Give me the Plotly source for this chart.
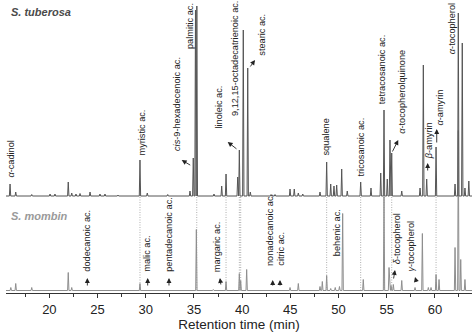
import plotly.graph_objects as go

# ---------------- data (retention time in min, signal in arbitrary units) ----------------
tub_times = [15.92, 16.51, 18.17, 20.07, 20.58, 21.96, 22.32, 22.76, 23.18, 24.22, 25.25, 25.77,
             27.12, 29.40, 30.16, 32.28, 34.59, 34.93, 35.16, 35.30, 37.08, 37.88, 38.33, 39.54,
             39.71, 40.12, 40.58, 40.85, 43.00, 43.41, 44.97, 45.41, 45.83, 46.29, 48.08, 48.77,
             49.19, 49.53, 49.81, 50.33, 50.91, 52.30, 53.37, 54.38, 54.72, 55.06, 55.34, 55.52,
             56.56, 58.46, 58.80, 59.15, 60.12, 62.09, 62.43, 62.84, 63.12, 63.52]
tub_heights = [12, 4, 1.5, 2, 2, 14, 3, 2, 2.5, 4, 2, 2,
               1, 36, 3, 1.5, 5, 38, 186, 190, 2, 10, 22, 19,
               46, 166, 128, 4, 1.5, 1.5, 7, 7, 3, 2, 4, 34,
               12, 10, 11, 27, 5, 14, 8, 23, 86, 17, 56, 43,
               5, 8, 131, 17, 49, 12, 183, 153, 8, 15]

mom_times = [16.00, 16.51, 18.17, 21.96, 22.32, 29.40, 35.25, 37.01, 38.33, 39.71, 39.85, 40.47,
             44.97, 45.83, 48.08, 48.32, 48.77, 49.19, 49.66, 50.10, 50.43, 52.57, 54.72, 55.24,
             55.45, 55.69, 56.56, 57.94, 58.70, 59.32, 59.60, 60.12, 60.43, 62.09, 62.43, 62.68,
             63.12]
mom_heights = [3, 7, 3, 18, 3, 7, 61, 1, 9, 17, 10, 21,
               3, 7, 4, 9, 15, 2, 3, 4, 77, 11, 94, 23,
               5, 6, 10, 3, 57, 3, 3, 16, 11, 43, 160, 31,
               11]

# peaks shared by both samples (dotted guide lines)
shared_times = [29.40, 35.29, 38.33, 39.71, 39.85, 48.77, 52.30, 54.72, 55.52, 60.12]

# labels: (text, time, bottom of label)
tub_labels = ["<i>α</i>-cadinol", "myristic ac.", "<i>cis</i>-9-hexadecenoic ac.", "palmitic ac.",
              "linoleic ac.", "9,12,15-octadecatrienoic ac.", "stearic ac.", "squalene",
              "tricosanoic ac.", "tetracosanoic ac.", "<i>α</i>-tocopherolquinone",
              "<i>β</i>-amyrin", "<i>α</i>-amyrin", "<i>α</i>-tocopherol"]
tub_label_t = [15.92, 29.56, 33.24, 34.59, 37.50, 39.21, 42.03, 48.60, 52.23, 54.48, 56.56,
               59.36, 60.48, 61.74]
tub_label_y = [114, 136, 141, 243, 163, 176, 236, 136, 115, 188, 158, 133, 166, 238]

mom_labels = ["dodecanoic ac.", "malic ac.", "pentadecanoic ac.", "margaric ac.",
              "nonadecanoic ac.", "citric ac.", "behenic ac.", "<i>δ</i>-tocopherol",
              "<i>γ</i>-tocopherol"]
mom_label_t = [23.87, 30.10, 32.34, 37.36, 42.89, 44.00, 49.81, 56.04, 57.42]
mom_label_y = [20, 20, 20, 20, 26, 26, 36, 28, 20]

# arrows: head (t, y) and tail (t, y)
arrow_head_t = [33.73, 38.50, 41.34, 56.20, 59.25, 60.19,
                23.94, 30.20, 32.41, 37.70, 43.17, 43.93, 55.86, 57.94]
arrow_head_y = [133, 151, 233, 153, 130, 164,
                15, 15, 15, 15, 13, 13, 23, 16]
arrow_tail_t = [34.77, 39.57, 40.74, 55.52, 59.25, 60.19,
                23.94, 30.20, 32.41, 37.81, 43.17, 43.93, 55.69, 58.11]
arrow_tail_y = [127, 143, 225, 140, 121, 149,
                6, 6, 6, 7, 6, 6, 13, 10]

x_ticks = [20, 25, 30, 35, 40, 45, 50, 55, 60]

# ---------------- layout constants ----------------
TUB_OFFSET = 97
MOM_OFFSET = 2.5
HALF_W = 0.07
X_RANGE = [15.5, 63.85]
FONT = "Liberation Sans, Arial, sans-serif"


def chromatogram(times, heights, offset):
    xs, ys = [X_RANGE[0]], [offset]
    for t, h in sorted(zip(times, heights)):
        xs += [t - HALF_W, t, t + HALF_W]
        ys += [offset, offset + h, offset]
    xs.append(X_RANGE[1])
    ys.append(offset)
    return xs, ys


fig = go.Figure()

# dotted guides
gx, gy = [], []
for t in shared_times:
    gx += [t, t, None]
    gy += [MOM_OFFSET, TUB_OFFSET, None]
fig.add_trace(go.Scatter(x=gx, y=gy, mode="lines",
                         line=dict(color="#9a9a9a", width=0.8, dash="1px,1.5px"),
                         hoverinfo="skip", showlegend=False))

mx, my = chromatogram(mom_times, mom_heights, MOM_OFFSET)
fig.add_trace(go.Scatter(x=mx, y=my, mode="lines", line=dict(color="#8e8e8e", width=1),
                         showlegend=False, name="S. mombin"))
tx, ty = chromatogram(tub_times, tub_heights, TUB_OFFSET)
fig.add_trace(go.Scatter(x=tx, y=ty, mode="lines", line=dict(color="#555555", width=1),
                         showlegend=False, name="S. tuberosa"))

ann = []
for txt, t, y in zip(tub_labels + mom_labels, tub_label_t + mom_label_t, tub_label_y + mom_label_y):
    ann.append(dict(x=t, y=y, xref="x", yref="y", text=txt, showarrow=False, textangle=-90,
                    xanchor="center", yanchor="bottom", font=dict(size=9.2, color="#222", family=FONT),
                    borderpad=0))
for hx, hy, tx_, ty_ in zip(arrow_head_t, arrow_head_y, arrow_tail_t, arrow_tail_y):
    ann.append(dict(x=hx, y=hy, ax=tx_, ay=ty_, xref="x", yref="y", axref="x", ayref="y",
                    text="", showarrow=True, arrowhead=2, arrowsize=1.1, arrowwidth=0.9,
                    arrowcolor="#222", standoff=0, startstandoff=0))
ann.append(dict(x=0.006, y=281, xref="paper", yref="y", text="<b><i>S. tuberosa</i></b>",
                showarrow=False, xanchor="left", yanchor="middle",
                font=dict(size=11, color="#4a4a4a", family=FONT)))
ann.append(dict(x=0.006, y=77, xref="paper", yref="y", text="<b><i>S. mombin</i></b>",
                showarrow=False, xanchor="left", yanchor="middle",
                font=dict(size=11, color="#9a9a9a", family=FONT)))

fig.update_layout(
    width=474, height=335,
    margin=dict(l=6, r=2, t=0, b=42),
    plot_bgcolor="white", paper_bgcolor="white",
    annotations=ann,
    font=dict(family=FONT, color="#222"),
    xaxis=dict(range=X_RANGE, showgrid=False, zeroline=False, showline=True,
               linecolor="#333", linewidth=1, ticks="outside", ticklen=4, tickcolor="#333",
               tickvals=x_ticks, tickfont=dict(size=13, color="#222", family=FONT),
               minor=dict(dtick=2.5, tick0=0, ticks="outside", ticklen=2.5, tickcolor="#333"),
               title=dict(text="Retention time (min)", font=dict(size=13.5, color="#222", family=FONT),
                          standoff=2)),
    yaxis=dict(range=[0, 293], visible=False, showgrid=False, zeroline=False),
)

fig.write_html("out.html")
